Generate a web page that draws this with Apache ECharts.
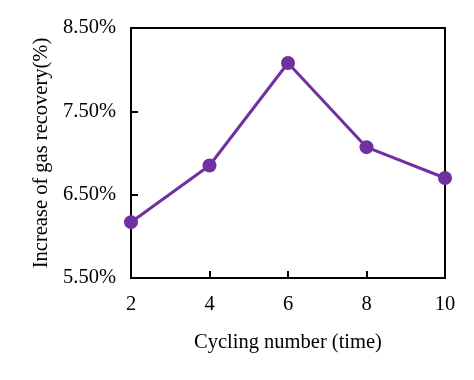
<!DOCTYPE html>
<html>
<head>
<meta charset="utf-8">
<script src="https://cdn.jsdelivr.net/npm/echarts@6/dist/echarts.min.js"></script>
<style>html,body{margin:0;padding:0;background:#fff}#c{width:474px;height:380px}</style>
</head>
<body>
<div id="c"></div>
<script>
const cycles = [2, 4, 6, 8, 10];
const increase = [6.17, 6.85, 8.08, 7.07, 6.70];
const yTicks = [5.5, 6.5, 7.5, 8.5];
const xTitle = 'Cycling number (time)';
const yTitle = 'Increase of gas recovery(%)';

const font = 'Liberation Serif';
const chart = echarts.init(document.getElementById('c'), null, {renderer: 'canvas'});
chart.setOption({
  animation: false,
  backgroundColor: '#fff',
  grid: {left: 131, right: 29, top: 28, bottom: 102, show: true, borderColor: '#000', borderWidth: 2},
  xAxis: {
    type: 'value', min: 2, max: 10, interval: 2,
    name: xTitle, nameLocation: 'middle', nameGap: 54,
    nameTextStyle: {fontFamily: font, fontSize: 20.5, color: '#000'},
    axisLine: {show: true, lineStyle: {color: '#000', width: 2}},
    axisTick: {show: true, inside: true, length: 7, lineStyle: {color: '#000', width: 2}},
    axisLabel: {fontFamily: font, fontSize: 20.5, color: '#000', margin: 16},
    splitLine: {show: false}
  },
  yAxis: {
    type: 'value', min: yTicks[0], max: yTicks[yTicks.length - 1], interval: 1,
    name: yTitle, nameLocation: 'middle', nameGap: 72,
    nameTextStyle: {fontFamily: font, fontSize: 20.5, color: '#000'},
    axisLine: {show: true, lineStyle: {color: '#000', width: 2}},
    axisTick: {show: true, inside: true, length: 7, lineStyle: {color: '#000', width: 2}},
    axisLabel: {fontFamily: font, fontSize: 20.5, color: '#000', margin: 15,
      formatter: v => v.toFixed(2) + '%'},
    splitLine: {show: false}
  },
  series: [{
    type: 'line',
    data: cycles.map((c, i) => [c, increase[i]]),
    symbol: 'circle', symbolSize: 14,
    lineStyle: {color: '#7030A0', width: 3},
    itemStyle: {color: '#7030A0'},
    clip: false
  }]
});
</script>
</body>
</html>
